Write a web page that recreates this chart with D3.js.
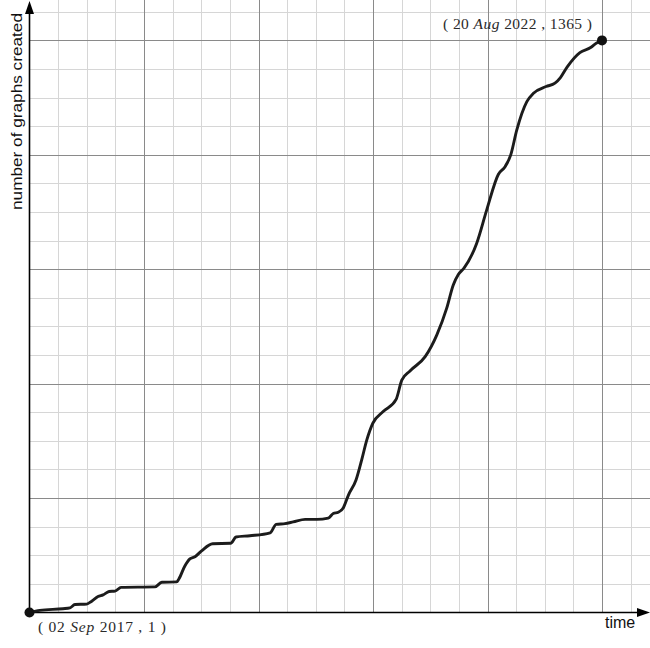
<!DOCTYPE html>
<html><head><meta charset="utf-8">
<script src="https://cdn.jsdelivr.net/npm/d3@7"></script>
<style>body{margin:0;background:#fff}svg{display:block}</style>
</head><body>
<svg id="c" width="650" height="648"></svg>
<script>
// days since 02 Sep 2017
const days = [0,33,106,128,144,181,197,217,233,252,271,290,397,419,466,473,492,508,524,545,580,637,654,698,762,781,809,835,873,910,946,962,978,994,1010,1034,1052,1068,1087,1120,1161,1179,1205,1253,1290,1321,1342,1358,1376,1416,1448,1485,1506,1524,1543,1575,1596,1636,1664,1682,1703,1743,1777,1796,1813];
const counts = [1,6,10,12,20,21,28,39,43,51,52,61,62,73,74,81,112,129,134,148,165,166,181,184,191,211,213,217,223,223,226,237,240,251,281,317,365,412,452,480,509,555,577,611,663,726,782,807,822,881,961,1046,1064,1092,1151,1219,1239,1255,1263,1277,1302,1336,1348,1359,1365];
const startDate = new Date(2017, 8, 2);
const endDate = new Date(2022, 7, 20);
const startLabel = ["( 02 ", "Sep", " 2017 , 1 )"];
const endLabel = ["( 20 ", "Aug", " 2022 , 1365 )"];
const xLabel = "time";
const yLabel = "number of graphs created";

const W = 650, H = 648;
const svg = d3.select("#c");
const x = d3.scaleTime().domain([startDate, endDate]).range([29.5, 602]);
const y = d3.scaleLinear().domain([1, 1365]).range([612.5, 40.4]);
const data = days.map((d, i) => ({date: d3.timeDay.offset(startDate, d), v: counts[i]}));

// grid (4 minor steps per major)
const x0 = x.range()[0], x1 = x.range()[1];
const y0 = y.range()[0], y1 = y.range()[1];
const gx = d3.scaleLinear().domain([0, 20]).range([x0, x1]);
const gy = d3.scaleLinear().domain([0, 20]).range([y0, y1]);
const g = svg.append("g");
const xs = d3.range(1, 23).filter(i => gx(i) <= W);
const ys = d3.range(1, 23).filter(i => gy(i) >= 0);
function drawGrid(major) {
  g.selectAll(null).data(xs.filter(i => (i % 4 === 0) === major)).enter().append("line")
    .attr("x1", d => Math.round(gx(d)) + 0.5).attr("x2", d => Math.round(gx(d)) + 0.5)
    .attr("y1", 0).attr("y2", y0)
    .attr("stroke", major ? "#8a8a8a" : "#d6d6d6").attr("stroke-width", 1);
  g.selectAll(null).data(ys.filter(i => (i % 4 === 0) === major)).enter().append("line")
    .attr("y1", d => Math.round(gy(d)) + 0.5).attr("y2", d => Math.round(gy(d)) + 0.5)
    .attr("x1", x0).attr("x2", W)
    .attr("stroke", major ? "#8a8a8a" : "#d6d6d6").attr("stroke-width", 1);
}
drawGrid(false); drawGrid(true);

// axes
svg.append("line").attr("x1", x0).attr("x2", 640).attr("y1", y0).attr("y2", y0)
  .attr("stroke", "#000").attr("stroke-width", 1.6);
svg.append("line").attr("x1", x0).attr("x2", x0).attr("y1", y0).attr("y2", 10)
  .attr("stroke", "#000").attr("stroke-width", 1.6);
svg.append("path").attr("d", `M650,${y0} L637,${y0-4.5} L637,${y0+4.5} Z`).attr("fill", "#000");
svg.append("path").attr("d", `M${x0},1 L${x0-4.5},14 L${x0+4.5},14 Z`).attr("fill", "#000");

// line
const line = d3.line().x(d => x(d.date)).y(d => y(d.v)).curve(d3.curveMonotoneX);
svg.append("path").datum(data).attr("d", line).attr("fill", "none")
  .attr("stroke", "#1c1c1c").attr("stroke-width", 2.9).attr("stroke-linejoin", "round");

// end points
svg.selectAll(null).data([data[0], data[data.length - 1]]).enter().append("circle")
  .attr("cx", d => x(d.date)).attr("cy", d => y(d.v)).attr("r", 5).attr("fill", "#111");

// labels
svg.append("text").attr("x", 605).attr("y", 628).text(xLabel)
  .attr("font-family", "Liberation Sans, Arial, sans-serif").attr("font-size", 16).attr("fill", "#111");
svg.append("text").attr("transform", "translate(22,210) rotate(-90)").text(yLabel)
  .attr("font-family", "Liberation Sans, Arial, sans-serif").attr("font-size", 15.5)
  .attr("textLength", 197).attr("lengthAdjust", "spacingAndGlyphs").attr("fill", "#111");

function annot(parts, px, py, len) {
  const t = svg.append("text").attr("x", px).attr("y", py)
    .attr("font-family", "Liberation Serif, Times New Roman, serif").attr("font-size", 15.5)
    .attr("fill", "#2a2a2a").attr("xml:space", "preserve").style("white-space", "pre")
    .attr("textLength", len).attr("lengthAdjust", "spacing");
  parts.forEach((p, i) => t.append("tspan").text(p).attr("font-style", i === 1 ? "italic" : "normal"));
}
annot(startLabel, 38, 632, 128);
annot(endLabel, 443, 29, 149);
</script>
</body></html>
